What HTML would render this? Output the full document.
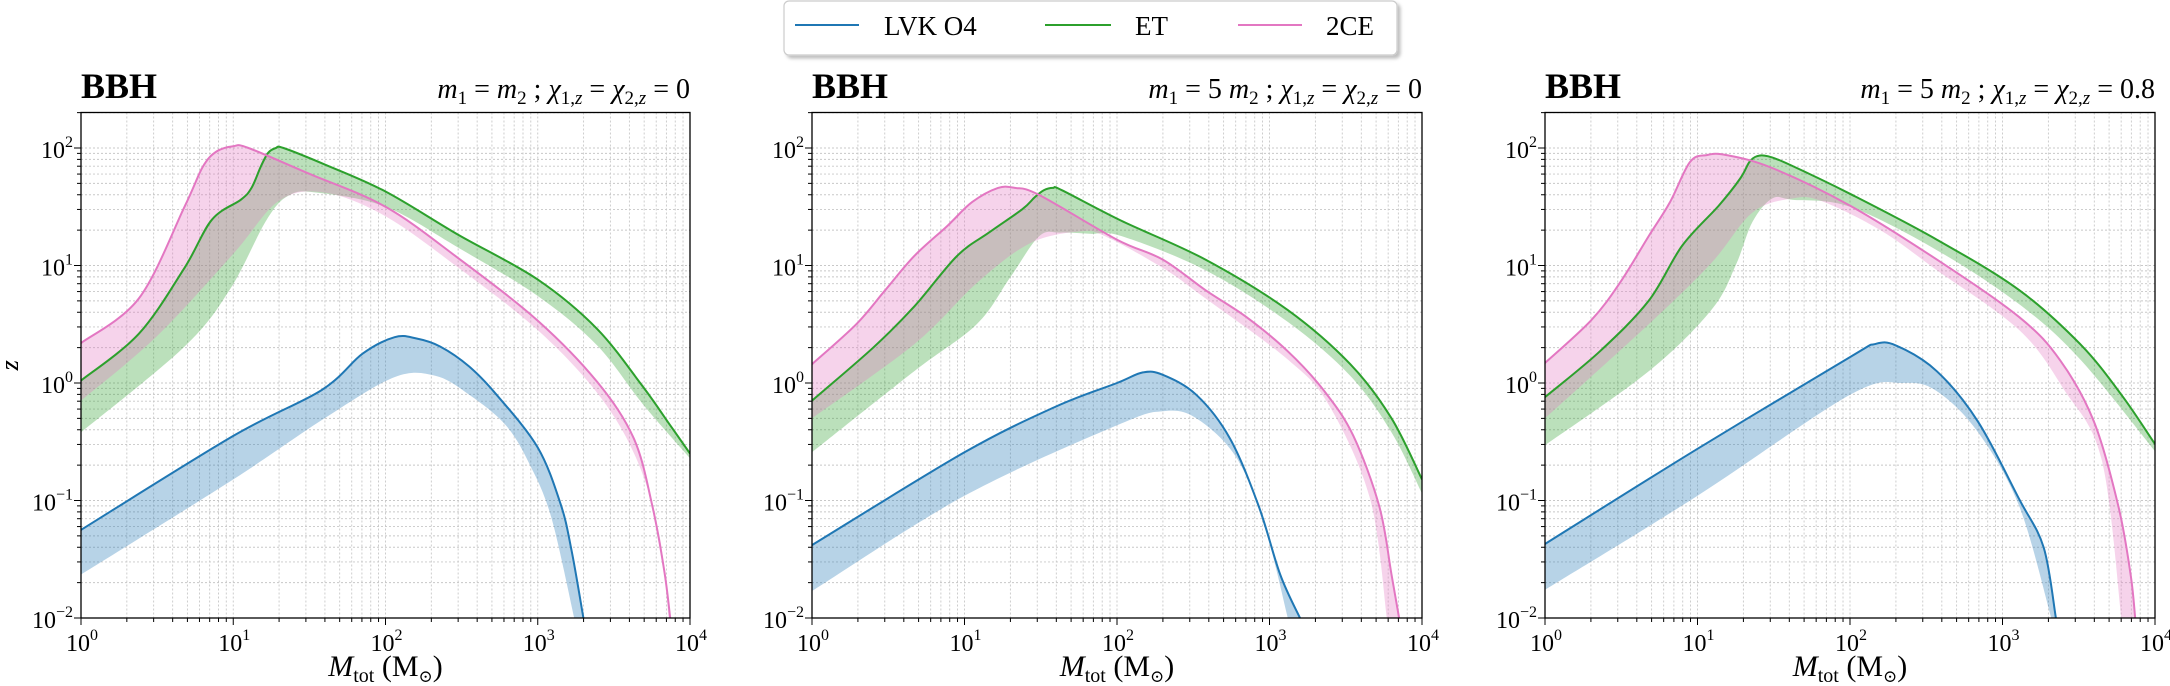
<!DOCTYPE html>
<html><head><meta charset="utf-8">
<style>
html,body{margin:0;padding:0;background:#fff;}
svg{display:block;font-family:"Liberation Serif","DejaVu Serif",serif;}
</style></head>
<body>
<svg id="s" width="2170" height="686" viewBox="0 0 2170 686" xmlns="http://www.w3.org/2000/svg">
<defs>
<filter id="sh" x="-5%" y="-20%" width="110%" height="150%"><feDropShadow dx="3" dy="3" stdDeviation="1.5" flood-color="#000" flood-opacity="0.25"/></filter>
</defs>
<g id="root"></g>
<rect x="784" y="1" width="613" height="54" rx="5" fill="#fff" stroke="#ccc" stroke-width="1.2" filter="url(#sh)"/>
<line x1="795" y1="25" x2="859" y2="25" stroke="#1f77b4" stroke-width="2"/>
<text x="884" y="35" font-size="27">LVK O4</text>
<line x1="1045" y1="25" x2="1111" y2="25" stroke="#2ca02c" stroke-width="2"/>
<text x="1135" y="35" font-size="27">ET</text>
<line x1="1238" y1="25" x2="1302" y2="25" stroke="#e377c2" stroke-width="2"/>
<text x="1326" y="35" font-size="27">2CE</text>
</svg>
<script>
var NS="http://www.w3.org/2000/svg";
var root=document.getElementById('root');
function el(t,a,p){var e=document.createElementNS(NS,t);for(var k in a)e.setAttribute(k,a[k]);(p||root).appendChild(e);return e;}
var panels=[
{x0:81,x1:690,five:false,eq:'0',
 pu:[[0,.34],[.38,.72],[.68,1.5],[.8,1.84],[.89,1.97],[1,2.015],[1.1,2.0],[1.5,1.78],[2,1.5],[2.48,1.06],[3,.53],[3.39,.01],[3.63,-.47],[3.75,-1.03],[3.83,-1.59],[3.87,-2]],
 pl:[[0,-.15],[.5,.4],[1,1.1],[1.3,1.55],[1.6,1.62],[2,1.42],[2.48,.98],[3,.45],[3.4,-.1],[3.65,-.65],[3.8,-1.3],[3.86,-2]],
 gu:[[0,.02],[.38,.42],[.68,.98],[.86,1.39],[1.05,1.56],[1.12,1.66],[1.18,1.84],[1.23,1.96],[1.28,2.0],[1.33,2.0],[1.6,1.86],[2,1.63],[2.48,1.26],[3,.88],[3.39,.46],[3.69,-.03],[3.87,-.36],[4,-.6]],
 gl:[[0,-.42],[.68,.31],[.98,.8],[1.22,1.39],[1.37,1.6],[1.55,1.62],[2,1.5],[2.48,1.15],[3,.74],[3.39,.32],[3.69,-.18],[4,-.64]],
 bu:[[0,-1.25],[1,-.45],[1.58,-.06],[1.85,.25],[2.06,.39],[2.2,.38],[2.36,.31],[2.55,.14],[2.73,-.1],[3,-.55],[3.15,-1.03],[3.22,-1.41],[3.3,-2]],
 bl:[[0,-1.63],[1,-.82],[1.6,-.3],[2.06,.05],[2.33,.06],[2.55,-.1],[2.79,-.36],[2.95,-.7],[3.09,-1.15],[3.24,-2]]},
{x0:812,x1:1422,five:true,eq:'0',
 pu:[[0,.16],[.29,.5],[.48,.79],[.67,1.08],[.89,1.34],[1.05,1.54],[1.22,1.66],[1.33,1.66],[1.49,1.6],[2,1.22],[2.3,1.05],[2.58,.79],[2.85,.56],[3.12,.27],[3.36,-.07],[3.55,-.45],[3.72,-1.05],[3.8,-1.63],[3.85,-2]],
 pl:[[0,-.3],[.67,.33],[1.08,.85],[1.43,1.19],[1.76,1.29],[1.92,1.25],[2.3,.98],[2.58,.72],[3.12,.2],[3.39,-.19],[3.66,-.99],[3.77,-2]],
 gu:[[0,-.15],[.4,.3],[.67,.65],[.95,1.08],[1.16,1.28],[1.38,1.48],[1.46,1.58],[1.52,1.64],[1.58,1.66],[1.64,1.64],[2.03,1.38],[2.58,1.05],[3.12,.62],[3.53,.16],[3.8,-.3],[4,-.82]],
 gl:[[0,-.59],[.67,.1],[1.08,.5],[1.3,.9],[1.49,1.25],[1.63,1.28],[1.82,1.27],[2.03,1.25],[2.58,.96],[3.12,.52],[3.53,.06],[3.8,-.42],[4,-.94]],
 bu:[[0,-1.38],[1,-.59],[1.6,-.2],[2,0],[2.17,.09],[2.3,.07],[2.52,-.1],[2.74,-.47],[2.93,-1.05],[3.07,-1.63],[3.2,-2]],
 bl:[[0,-1.77],[1,-.96],[2,-.36],[2.3,-.24],[2.52,-.3],[2.79,-.65],[2.98,-1.28],[3.12,-2]]},
{x0:1545,x1:2155,five:true,eq:'0.8',
 pu:[[0,.17],[.3,.53],[.49,.85],[.68,1.25],[.82,1.54],[.95,1.88],[1.06,1.94],[1.19,1.94],[1.49,1.83],[2,1.51],[2.57,1.05],[3.11,.56],[3.38,.19],[3.6,-.33],[3.76,-1.05],[3.84,-1.63],[3.87,-2]],
 pl:[[0,-.3],[.68,.5],[1.09,1.02],[1.36,1.45],[1.62,1.57],[1.81,1.55],[2.2,1.3],[2.57,.96],[3.11,.45],[3.4,-.05],[3.65,-.65],[3.78,-2]],
 gu:[[0,-.12],[.36,.27],[.68,.7],[.9,1.17],[1.14,1.51],[1.28,1.74],[1.34,1.88],[1.39,1.93],[1.46,1.93],[1.6,1.86],[2,1.61],[2.57,1.22],[3.11,.79],[3.51,.33],[3.78,-.1],[4,-.52]],
 gl:[[0,-.53],[.68,.1],[1.09,.62],[1.25,1.0],[1.36,1.37],[1.49,1.57],[1.62,1.56],[2,1.5],[2.57,1.13],[3.11,.67],[3.51,.2],[4,-.58]],
 bu:[[0,-1.37],[1,-.56],[2,.22],[2.16,.33],[2.3,.32],[2.57,.1],[2.84,-.33],[3.11,-.99],[3.27,-1.4],[3.35,-2]],
 bl:[[0,-1.76],[1,-.96],[2,-.1],[2.35,0],[2.57,-.07],[2.84,-.42],[3.11,-1.05],[3.32,-2]]}
];
var Y0=112.5,Y1=618,dpy=117.5;
function smooth(P,start){
  var d=(start?'M':'L')+P[0][0].toFixed(1)+','+P[0][1].toFixed(1);
  for(var i=0;i<P.length-1;i++){
    var p0=P[Math.max(0,i-1)],p1=P[i],p2=P[i+1],p3=P[Math.min(P.length-1,i+2)];
    var t=1/6;
    var c1=[p1[0]+(p2[0]-p0[0])*t,p1[1]+(p2[1]-p0[1])*t];
    var c2=[p2[0]-(p3[0]-p1[0])*t,p2[1]-(p3[1]-p1[1])*t];
    d+='C'+c1[0].toFixed(1)+','+c1[1].toFixed(1)+' '+c2[0].toFixed(1)+','+c2[1].toFixed(1)+' '+p2[0].toFixed(1)+','+p2[1].toFixed(1);
  }
  return d;
}
panels.forEach(function(p,i){
  var w=p.x1-p.x0, dx=w/4;
  function X(l){return p.x0+l*dx;}
  function Y(l){return Y1-(l+2)*dpy;}
  var cid='c'+i;
  var cp=el('clipPath',{id:cid});el('rect',{x:p.x0,y:Y0,width:w,height:Y1-Y0},cp);
  var g=el('g',{});
  for(var d=0;d<4;d++)for(var m=1;m<10;m++){var xx=X(d+Math.log10(m));if(d==0&&m==1)continue;
    el('line',{x1:xx,y1:Y0,x2:xx,y2:Y1,stroke:'#c8c8c8','stroke-width':0.9,'stroke-dasharray':'2,2'},g);}
  for(var d=-2;d<3;d++)for(var m=1;m<10;m++){var l=d+Math.log10(m);var yy=Y(l);if(yy<Y0||yy>=Y1)continue;
    el('line',{x1:p.x0,y1:yy,x2:p.x1,y2:yy,stroke:'#c8c8c8','stroke-width':0.9,'stroke-dasharray':'2,2'},g);}
  var cg=el('g',{'clip-path':'url(#'+cid+')'});
  function tp(a){return a.map(function(q){return [X(q[0]),Y(q[1])];});}
  function band(u,lw,col){el('path',{d:smooth(tp(u),true)+smooth(tp(lw.slice().reverse()),false)+'Z',fill:col,'fill-opacity':0.32},cg);}
  band(p.bu,p.bl,'#1f77b4');band(p.gu,p.gl,'#2ca02c');band(p.pu,p.pl,'#e377c2');
  el('path',{d:smooth(tp(p.bu),true),fill:'none',stroke:'#1f77b4','stroke-width':2},cg);
  el('path',{d:smooth(tp(p.gu),true),fill:'none',stroke:'#2ca02c','stroke-width':2},cg);
  el('path',{d:smooth(tp(p.pu),true),fill:'none',stroke:'#e377c2','stroke-width':2},cg);
  el('rect',{x:p.x0,y:Y0,width:w,height:Y1-Y0,fill:'none',stroke:'#000','stroke-width':1.3});
  for(var d=0;d<=4;d++){for(var m=1;m<10;m++){if(d==4&&m>1)break;var xx=X(d+Math.log10(m));
    el('line',{x1:xx,y1:Y1,x2:xx,y2:Y1+(m==1?7:4),stroke:'#000','stroke-width':1});}
    var t=el('text',{x:X(d)+1,y:Y1+33,'font-size':24,'text-anchor':'middle'});
    t.innerHTML='10<tspan font-size="16" dy="-11">'+d+'</tspan>';}
  for(var d=-2;d<=2;d++){for(var m=1;m<10;m++){var l=d+Math.log10(m);var yy=Y(l);if(yy<Y0)break;
    el('line',{x1:p.x0,y1:yy,x2:p.x0-(m==1?7:4),y2:yy,stroke:'#000','stroke-width':1});}
    var sup=d<0?'\u2212'+(-d):String(d);
    var t=el('text',{x:p.x0-8,y:Y(d)+10,'font-size':24,'text-anchor':'end'});
    t.innerHTML='10<tspan font-size="16" dy="-11">'+sup+'</tspan>';}
  var zl=el('text',{x:0,y:0,'font-size':26,'font-style':'italic',transform:'translate(18,'+((Y0+Y1)/2)+') rotate(-90)','text-anchor':'middle'});zl.textContent='z';
  var xl=el('text',{x:(p.x0+p.x1)/2,y:676,'font-size':30,'text-anchor':'middle'});
  xl.innerHTML='<tspan font-style="italic">M</tspan><tspan font-size="20" dy="6">tot</tspan><tspan dy="-6"> (M</tspan><tspan font-size="17" dy="6">\u2299</tspan><tspan dy="-6">)</tspan>';
  var bt=el('text',{x:p.x0,y:98,'font-size':36,'font-weight':'bold'});bt.textContent='BBH';
  var rt=el('text',{x:p.x1,y:98,'font-size':28,'text-anchor':'end'});
  rt.innerHTML='<tspan font-style="italic">m</tspan><tspan font-size="19" dy="6">1</tspan><tspan dy="-6"> = '+(p.five?'5 ':'')+'</tspan><tspan font-style="italic">m</tspan><tspan font-size="19" dy="6">2</tspan><tspan dy="-6"> ; </tspan><tspan font-style="italic">\u03c7</tspan><tspan font-size="19" dy="6">1,<tspan font-style="italic">z</tspan></tspan><tspan dy="-6"> = </tspan><tspan font-style="italic">\u03c7</tspan><tspan font-size="19" dy="6">2,<tspan font-style="italic">z</tspan></tspan><tspan dy="-6"> = '+p.eq+'</tspan>';
});
</script>
</body></html>
